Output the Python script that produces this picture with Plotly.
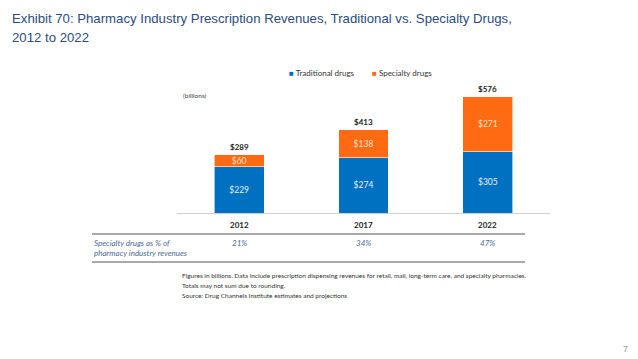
import plotly.graph_objects as go

W, H = 638, 359
OFF = 8  # page body margin offset

years = ["2012", "2017", "2022"]
traditional = [229, 274, 305]
specialty = [60, 138, 271]
totals = [289, 413, 576]
specialty_pct = ["21%", "34%", "47%"]
series_names = ["Traditional drugs", "Specialty drugs"]

title_lines = ["Exhibit 70: Pharmacy Industry Prescription Revenues, Traditional vs. Specialty Drugs,",
               "2012 to 2022"]
footnotes = [
    "Figures in billions. Data include prescription dispensing revenues for retail, mail, long-term care, and specialty pharmacies.",
    "Totals may not sum due to rounding.",
    "Source: Drug Channels Institute estimates and projections",
]

BLUE = "#0070C0"
ORANGE = "#FF6A13"
FONT = "Lato"


def px(x):
    return (x - OFF) / W


def py(y):
    return 1 - (y - OFF) / H


fig = go.Figure()
fig.add_trace(go.Bar(
    x=years, y=traditional, name=series_names[0],
    marker=dict(color=BLUE, line=dict(color="white", width=0.6)),
    texttemplate="$%{y}", textposition="inside", insidetextanchor="middle",
    textfont=dict(color="#e8f0fa", size=8.5, family=FONT), width=0.4,
))
fig.add_trace(go.Bar(
    x=years, y=specialty, name=series_names[1],
    marker=dict(color=ORANGE, line=dict(color="white", width=0.6)),
    texttemplate="$%{y}", textposition="inside", insidetextanchor="middle",
    textfont=dict(color="#fde6d6", size=8.5, family=FONT), width=0.4,
))

ann = []
# title
for i, t in enumerate(title_lines):
    ann.append(dict(text=t, x=px(10), y=py(18 + i * 19.5), xref="paper", yref="paper",
                    xanchor="left", yanchor="middle", showarrow=False,
                    font=dict(family="Liberation Sans, Arial", size=13.2, color="#2B4C7E")))
# legend (compact, as in the reference)
for name, col, xl in zip(series_names, [BLUE, ORANGE], [287, 370]):
    ann.append(dict(text=f"<span style='color:{col}'>■</span> {name}", x=px(xl), y=py(73),
                    xref="paper", yref="paper", xanchor="left", yanchor="middle", showarrow=False,
                    font=dict(family=FONT, size=8, color="#333333")))
# totals (category index positions)
for i, tot in enumerate(totals):
    ann.append(dict(text=f"<b>${tot}</b>", x=i, y=tot, xref="x", yref="y", yanchor="bottom",
                    yshift=1, showarrow=False, font=dict(family=FONT, size=8, color="#222222")))
# category labels
for i, yr in enumerate(years):
    ann.append(dict(text=f"<b>{yr}</b>", x=i, y=py(225), xref="x", yref="paper", yanchor="middle",
                    showarrow=False, font=dict(family=FONT, size=8, color="#222222")))
# percentages row
for i, p in enumerate(specialty_pct):
    ann.append(dict(text=f"<i>{p}</i>", x=i, y=py(243), xref="x", yref="paper", yanchor="middle",
                    showarrow=False, font=dict(family=FONT, size=8, color="#4A6A94")))
ann.append(dict(text="<i>Specialty drugs as % of<br>pharmacy industry revenues</i>", x=px(92), y=py(248),
                xref="paper", yref="paper", xanchor="left", yanchor="middle", align="left",
                showarrow=False, font=dict(family=FONT, size=8, color="#4A6A94")))
# billions
ann.append(dict(text="(billions)", x=px(181), y=py(96), xref="paper", yref="paper", xanchor="left",
                yanchor="middle", showarrow=False, font=dict(family=FONT, size=6.5, color="#444444")))
# footnotes
for i, f in enumerate(footnotes):
    ann.append(dict(text=f, x=px(180), y=py(275 + i * 10), xref="paper", yref="paper", xanchor="left",
                    yanchor="middle", showarrow=False, font=dict(family=FONT, size=6.5, color="#333333")))
# page number
ann.append(dict(text="7", x=px(625), y=py(349), xref="paper", yref="paper", xanchor="center",
                yanchor="middle", showarrow=False, font=dict(family="Liberation Sans", size=9, color="#999999")))

shapes = [
    dict(type="line", xref="paper", yref="paper", x0=px(92), x1=px(525), y0=py(234), y1=py(234),
         line=dict(color="#8c8c8c", width=1.3)),
    dict(type="line", xref="paper", yref="paper", x0=px(92), x1=px(525), y0=py(262), y1=py(262),
         line=dict(color="#8c8c8c", width=1.3)),
]

fig.update_layout(
    width=W, height=H, margin=dict(l=0, r=0, t=0, b=0),
    paper_bgcolor="white", plot_bgcolor="white",
    barmode="stack", bargap=0.6,
    showlegend=False,
    xaxis=dict(type="category", domain=[px(177), px(550)], range=[-0.5, 2.5], showticklabels=False,
               ticks="", showgrid=False, showline=True, linecolor="#d0d0d0", linewidth=1,
               zeroline=False, fixedrange=True),
    yaxis=dict(domain=[py(213), py(80)], range=[0, 660], visible=False, showgrid=False, zeroline=False),
    annotations=ann, shapes=shapes,
    uniformtext=dict(minsize=6, mode="show"),
)

fig.write_html("out.html")
